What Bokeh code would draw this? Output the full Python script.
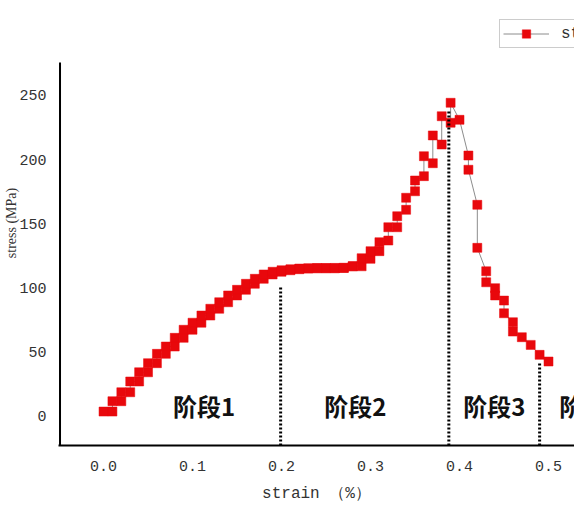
import math
from bokeh.plotting import figure
from bokeh.models import (ColumnDataSource, FixedTicker, PrintfTickFormatter,
                          Legend, LegendItem, Range1d)
from bokeh.core.properties import value
from bokeh.embed import file_html
from bokeh.resources import INLINE

# ---- data ----
strain = [0.00, 0.01, 0.01, 0.02, 0.02, 0.03, 0.03, 0.04, 0.04, 0.05,
          0.05, 0.06, 0.06, 0.07, 0.07, 0.08, 0.08, 0.09, 0.09, 0.10,
          0.10, 0.11, 0.11, 0.12, 0.12, 0.13, 0.13, 0.14, 0.14, 0.15,
          0.15, 0.16, 0.16, 0.17, 0.17, 0.18, 0.18, 0.19, 0.19, 0.20,
          0.20, 0.21, 0.21, 0.22, 0.22, 0.23, 0.23, 0.24, 0.24, 0.25,
          0.25, 0.26, 0.26, 0.27, 0.27, 0.28, 0.28, 0.29, 0.29, 0.30,
          0.30, 0.31, 0.31, 0.32, 0.32, 0.33, 0.33, 0.34, 0.34, 0.35,
          0.35, 0.36, 0.36, 0.37, 0.37, 0.38, 0.38, 0.39, 0.39, 0.40,
          0.41, 0.41, 0.42, 0.42, 0.43, 0.43, 0.44, 0.44, 0.45, 0.45,
          0.46, 0.46, 0.47, 0.48, 0.49, 0.50]
stress = [3.1, 3.1, 11.2, 11.2, 18.2, 18.2, 26.6, 26.6, 33.8, 33.8,
          40.9, 40.9, 48.2, 48.2, 53.9, 53.9, 60.7, 60.7, 67.0, 67.0,
          72.5, 72.5, 78.1, 78.1, 83.4, 83.4, 88.5, 88.5, 93.8, 93.8,
          98.2, 98.2, 102.9, 102.9, 106.8, 106.8, 110.2, 110.2, 112.3, 112.3,
          113.5, 113.5, 114.3, 114.3, 114.8, 114.8, 115.0, 115.0, 115.2, 115.2,
          115.0, 115.0, 115.3, 115.3, 115.4, 116.6, 116.6, 116.6, 122.9, 122.4,
          128.4, 128.4, 135.4, 136.7, 147.1, 147.1, 155.7, 160.7, 170.1, 175.2,
          183.6, 187.0, 202.6, 197.1, 218.8, 211.7, 233.8, 228.7, 244.3, 231.0,
          203.1, 192.0, 164.6, 131.0, 112.7, 104.1, 99.5, 93.8, 89.8, 79.9,
          72.9, 65.6, 61.2, 55.2, 47.4, 42.2]

stage_labels = ["阶段1", "阶段2", "阶段3"]
stage_strain = [0.113, 0.283, 0.439]
last_stage_label = ["阶段4"]
last_stage_strain = [0.512]
stage_stress = 8.0

boundary_strain = [0.199, 0.388, 0.49]
boundary_top = [100.0, 238.0, 40.6]

x_ticks = [0.0, 0.1, 0.2, 0.3, 0.4, 0.5]
y_ticks = [0, 50, 100, 150, 200, 250]

x_start, x_end = -0.0506, 0.5292
y_start, y_end = -23.4, 324.2
y_axis_top = 275.8
y_axis_x = -0.0489

MONO = "Liberation Mono"
SERIF = "Liberation Serif"
CJK = "Noto Sans CJK SC"

p = figure(width=574, height=528, output_backend="svg", toolbar_location=None,
           title=None, x_range=Range1d(x_start, x_end), y_range=Range1d(y_start, y_end),
           min_border_left=58, min_border_right=0, min_border_top=0, min_border_bottom=83)

p.grid.visible = False
p.outline_line_color = None
p.background_fill_color = "white"
p.border_fill_color = "white"

# left axis line (only up to the top of the value scale, as in the original)
p.segment(x0=[y_axis_x], y0=[y_start], x1=[y_axis_x], y1=[y_axis_top],
          line_color="black", line_width=2)

src = ColumnDataSource(dict(strain=strain, stress=stress))
line_r = p.line("strain", "stress", source=src, line_color="#8c8c8c", line_width=1)
mark_r = p.scatter("strain", "stress", source=src, marker="square", size=9,
                   fill_color="#e8080c", line_color="#e8080c", line_width=0.5)

p.segment(x0=boundary_strain, y0=[y_start] * len(boundary_strain),
          x1=boundary_strain, y1=boundary_top,
          line_color="black", line_width=3, line_dash="2 2")

p.text(x=stage_strain, y=[stage_stress] * len(stage_strain), text=stage_labels,
       text_font=value(CJK), text_font_style="bold", text_font_size="24px",
       text_align="center", text_baseline="middle", text_color="#111111")
p.text(x=last_stage_strain, y=[stage_stress], text=last_stage_label,
       text_font=value(CJK), text_font_style="bold", text_font_size="24px",
       text_align="left", text_baseline="middle", text_color="#111111")

# axes
p.xaxis.ticker = FixedTicker(ticks=x_ticks)
p.yaxis.ticker = FixedTicker(ticks=y_ticks)
p.xaxis.formatter = PrintfTickFormatter(format="%.1f")
p.yaxis.formatter = PrintfTickFormatter(format="%d")
for ax in (p.xaxis, p.yaxis):
    ax.axis_line_color = "black"
    ax.axis_line_width = 2
    ax.major_tick_line_color = None
    ax.minor_tick_line_color = None
    ax.major_label_text_font = MONO
    ax.major_label_text_font_size = "15px"
    ax.major_label_text_color = "#333333"
p.yaxis.axis_line_color = None
p.xaxis.major_label_standoff = 9
p.yaxis.major_label_standoff = 6
p.xaxis.axis_label = "strain （%）"
p.xaxis.axis_label_text_font = MONO
p.xaxis.axis_label_text_font_size = "16px"
p.xaxis.axis_label_text_font_style = "normal"
p.xaxis.axis_label_text_color = "#333333"
p.xaxis.axis_label_standoff = 11

p.yaxis.axis_label = "stress (MPa)"
p.yaxis.axis_label_text_font = SERIF
p.yaxis.axis_label_text_font_size = "14px"
p.yaxis.axis_label_text_font_style = "normal"
p.yaxis.axis_label_text_color = "#333333"
p.yaxis.axis_label_standoff = -3

legend = Legend(items=[LegendItem(label="stress", renderers=[line_r, mark_r])],
                location=(441, 397), orientation="vertical",
                border_line_color="#999999", border_line_width=1,
                background_fill_color="white", background_fill_alpha=1.0,
                padding=3, margin=0, spacing=0, glyph_width=46, glyph_height=21,
                label_standoff=12, label_text_font=MONO, label_text_font_size="16px",
                label_text_color="#333333")
p.add_layout(legend)

open("out.html", "w").write(file_html(p, INLINE))
